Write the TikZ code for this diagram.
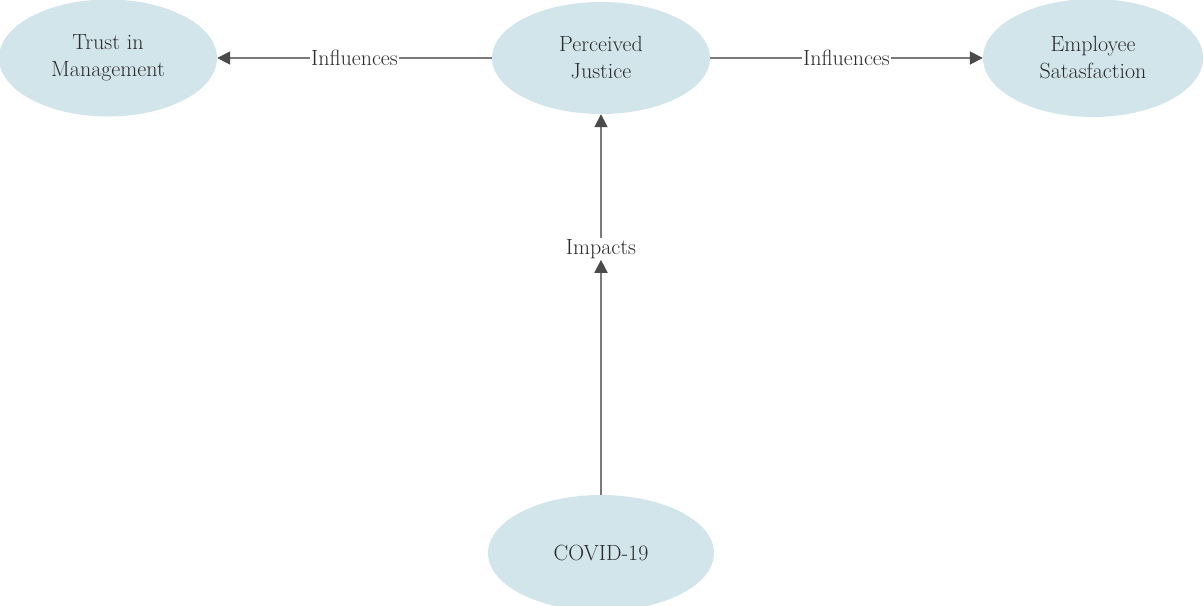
\documentclass[tikz,border=0pt]{standalone}
\usetikzlibrary{shapes.geometric,arrows.meta}
\definecolor{bubble}{HTML}{D2E5EA}
\definecolor{linegray}{HTML}{7A7A7A}
\definecolor{tipgray}{HTML}{4A4A4A}
\definecolor{txtgray}{HTML}{2B2B2B}
\tikzset{
  concept/.style={ellipse,fill=bubble,inner sep=0pt,align=center,
    text=txtgray,font=\fontsize{22}{27}\selectfont},
  lbl/.style={fill=white,inner sep=1pt,text=txtgray,
    font=\fontsize{22}{27}\selectfont},
  link/.style={draw=linegray,line width=1.8pt,
    -{Triangle[length=13pt,width=13pt,color=tipgray]}}
}
\begin{document}
\begin{tikzpicture}[x=1pt,y=-1pt]
      \useasboundingbox (0,0) rectangle (1204,605);
      \draw
        (108,58) node[concept,minimum width=218pt,minimum height=117pt] (trust){Trust in\\Management}
        (601,58) node[concept,minimum width=218pt,minimum height=112pt] (justice){Perceived\\Justice}
        (1093,58) node[concept,minimum width=220pt,minimum height=118pt] (employee){Employee\\Satasfaction}
        (601,553) node[concept,minimum width=226pt,minimum height=116pt] (covid){COVID-19}
        (601,249) node[lbl] (impacts){Impacts};
      \begin{scope}[link]
        \draw (justice) to node[lbl]{Influences} (trust);
        \draw (justice) to node[lbl]{Influences} (employee);
        \draw (covid) to (impacts);
        \draw (impacts) to (justice);
      \end{scope}
    \end{tikzpicture}
\end{document}
